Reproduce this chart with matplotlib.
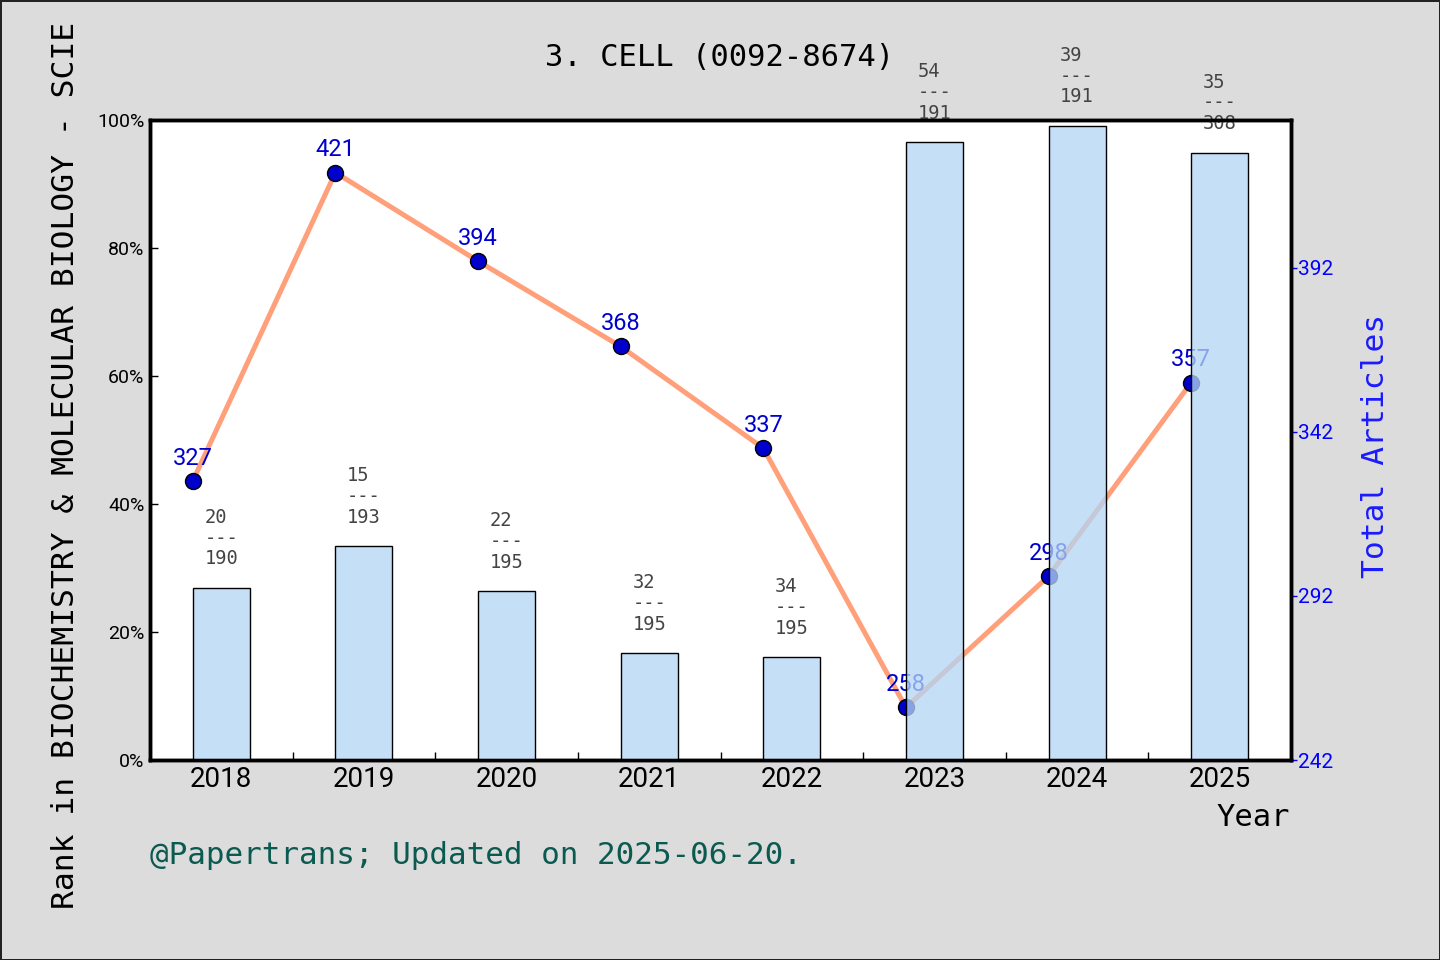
import matplotlib
matplotlib.use("Agg")
import matplotlib.pyplot as plt
from matplotlib.ticker import FuncFormatter, FixedLocator

years = ["2018", "2019", "2020", "2021", "2022", "2023", "2024", "2025"]
bar_pct = [0.269, 0.334, 0.264, 0.167, 0.161, 0.965, 0.991, 0.949]
rank_num = [20, 15, 22, 32, 34, 54, 39, 35]
rank_tot = [190, 193, 195, 195, 195, 191, 191, 308]
articles = [327, 421, 394, 368, 337, 258, 298, 357]
right_ticks = [242, 292, 342, 392]

title = "3. CELL (0092-8674)"
ylabel_left = "Rank in BIOCHEMISTRY & MOLECULAR BIOLOGY - SCIE"
ylabel_right = "Total Articles"
xlabel = "Year"
footer = "@Papertrans; Updated on 2025-06-20."

mono = "DejaVu Sans Mono"
sans = "Roboto"

fig = plt.figure(figsize=(14.4, 9.6), dpi=100, facecolor="#dcdcdc",
                 edgecolor="#222222", linewidth=1.0)
ax1 = fig.add_axes([150 / 1440, 200 / 960, 1141 / 1440, 640 / 960])
ax2 = ax1.twinx()
ax1.set_zorder(2)
ax2.set_zorder(1)
ax1.patch.set_visible(False)
ax2.patch.set_visible(True)
ax2.set_facecolor("white")

n = len(years)
xs = list(range(n))
line_x = [i - 0.2 for i in xs]

# line on right axis (below bars)
ax2.plot(line_x, articles, color="#ffa07a", lw=3.6, marker="o", ms=11.5,
         mfc="#0000cd", mec="black", mew=1, zorder=2)
for x, v in zip(line_x, articles):
    ax2.annotate(str(v), (x, v), xytext=(0, 8), textcoords="offset points",
                 ha="center", va="bottom", color="#0000cd", fontsize=17,
                 family=sans, zorder=3)
ax2.set_ylim(242, 437)
ax2.yaxis.set_major_locator(FixedLocator(right_ticks))
ax2.tick_params(axis="y", direction="out", length=4, width=1, colors="blue",
                labelsize=15, pad=1)
for lab in ax2.get_yticklabels():
    lab.set_family(sans)

# bars on left axis
ax1.bar(xs, bar_pct, width=0.4, color=(179 / 255, 214 / 255, 245 / 255, 0.76),
        edgecolor="black", linewidth=1, zorder=2)
for x, v, r, t in zip(xs, bar_pct, rank_num, rank_tot):
    ax1.annotate(f"{r}\n---\n{t}", (x, v), xytext=(0, 14), textcoords="offset points",
                 ha="center", va="bottom", multialignment="left", fontsize=13.5,
                 color="#444444", family=mono, linespacing=1.12, zorder=2,
                 annotation_clip=False)

ax1.set_xlim(-0.5, 7.5)
ax1.set_ylim(0, 1)
ax1.set_yticks([0, 0.2, 0.4, 0.6, 0.8, 1.0])
ax1.yaxis.set_major_formatter(FuncFormatter(lambda v, p: f"{int(round(v * 100))}%"))
ax1.set_xticks(xs)
ax1.set_xticklabels(years)
ax1.set_xticks([i + 0.5 for i in range(n - 1)], minor=True)
ax1.tick_params(axis="x", which="major", length=0, labelsize=20, pad=4)
ax1.tick_params(axis="x", which="minor", direction="in", length=6, width=1)
ax1.tick_params(axis="y", direction="in", length=6, width=1, labelsize=14, pad=4)
for lab in ax1.get_xticklabels() + ax1.get_yticklabels():
    lab.set_family(sans)

for a in (ax1, ax2):
    for s in a.spines.values():
        s.set_linewidth(2.5)
        s.set_color("black")

fig.text(720 / 1440, 1 - 57 / 960, title, ha="center", va="center",
         fontsize=22, family=mono, color="black")
fig.text(66 / 1440, 1 - 465 / 960, ylabel_left, ha="center", va="center",
         rotation=90, fontsize=22.6, family=mono, color="black")
fig.text(1376 / 1440, 1 - 446 / 960, ylabel_right, ha="center", va="center",
         rotation=90, fontsize=22.5, family=mono, color="#1a1aff")
fig.text(1290 / 1440, 1 - 817 / 960, xlabel, ha="right", va="center",
         fontsize=22, family=mono, color="black")
fig.text(150 / 1440, 1 - 855 / 960, footer, ha="left", va="center",
         fontsize=22.3, family=mono, color="#0b5a50")

fig.savefig("out.png", dpi=100, facecolor=fig.get_facecolor(),
            edgecolor=fig.get_edgecolor())
